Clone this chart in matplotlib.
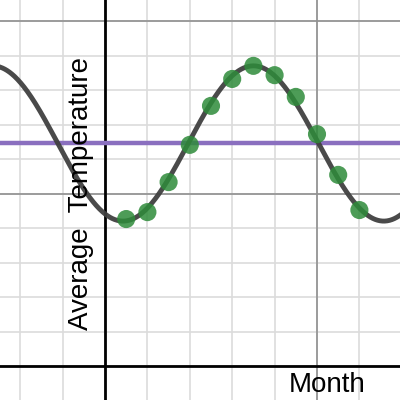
import numpy as np
import matplotlib
matplotlib.use("Agg")
import matplotlib.pyplot as plt

months = [1, 2, 3, 4, 5, 6, 7, 8, 9, 10, 11, 12]
temps = [4.26, 4.46, 5.33, 6.41, 7.54, 8.32, 8.70, 8.43, 7.80, 6.72, 5.54, 4.52]
mean_temp = 6.46
amp, mid, phase, period = 2.25, 6.45, 0.85, 12.3

fig = plt.figure(figsize=(4, 4), dpi=100)
ax = fig.add_axes([0, 0, 1, 1])
xmin, xmax = -105/21.2, (400-105)/21.2
ymin, ymax = -(400-366)/34.5, 366/34.5
ax.set_xlim(xmin, xmax); ax.set_ylim(ymin, ymax)
for x in np.arange(-4, 14, 2):
    ax.axvline(x, color='#dcdcdc', lw=1.2, zorder=0)
for y in np.arange(0, 11, 1):
    ax.axhline(y, color='#dcdcdc', lw=1.2, zorder=0)
for x in [10]:
    ax.axvline(x, color='#909090', lw=1.2, zorder=0)
for y in [5, 10]:
    ax.axhline(y, color='#909090', lw=1.2, zorder=0)
ax.axvline(0, color='black', lw=2, zorder=1)
ax.axhline(0, color='black', lw=2, zorder=1)

ax.axhline(mean_temp, color='#8a6fbf', lw=3.2, zorder=2)
xs = np.linspace(xmin, xmax, 500)
ax.plot(xs, mid - amp*np.cos(2*np.pi*(xs-phase)/period), color='#404040', lw=3.5, zorder=3, alpha=0.95)
ax.scatter(months, temps, s=170, color='#2e8b3a', alpha=0.85, edgecolors='none', zorder=4)

ax.text(-1.15, 5.0, 'Average  Temperature', rotation=90, ha='center', va='center',
        fontsize=20, family='Liberation Sans')
ax.text(10.5, -0.55, 'Month', ha='center', va='center', fontsize=20, family='Liberation Sans')
ax.axis('off')
fig.savefig('out.png')
